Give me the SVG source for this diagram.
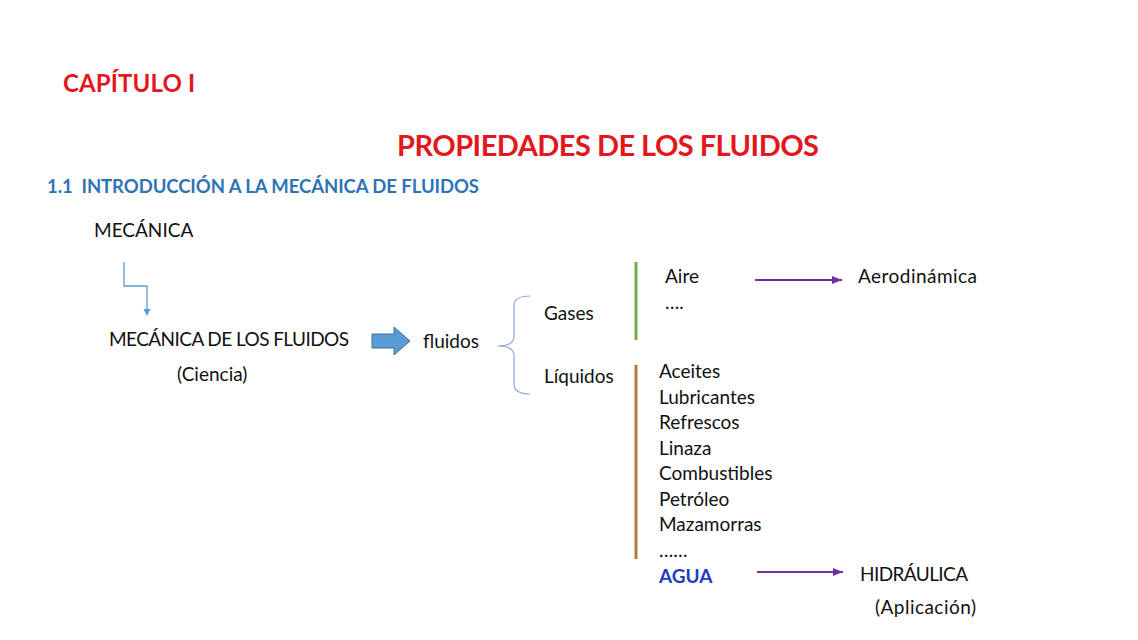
<svg xmlns="http://www.w3.org/2000/svg" width="1138" height="640" viewBox="0 0 1138 640">
<defs>
<style>
text{font-family:Lato,"Open Sans","Liberation Sans",sans-serif;fill:#111;font-size:19px}
.red{fill:#e3171c;font-weight:bold}
.chap{font-size:24px}
.title{font-size:29px}
.sec{fill:#2e74b5;font-weight:bold;font-size:18.5px}
.agua{fill:#1f3fbf;font-weight:bold}
.purple{stroke:#7030a0;stroke-width:2;fill:none}
</style>
<marker id="ah" markerWidth="12" markerHeight="10" refX="10" refY="5" orient="auto" markerUnits="userSpaceOnUse">
<path d="M0,1 L10,5 L0,9 z" fill="#7030a0"/>
</marker>
</defs>
<rect width="1138" height="640" fill="#fff"/>
<text class="red chap" x="63" y="92" textLength="132">CAPÍTULO I</text>
<text class="red title" x="397" y="156" textLength="422">PROPIEDADES DE LOS FLUIDOS</text>
<text class="sec" x="47" y="193" textLength="432" xml:space="preserve">1.1  INTRODUCCIÓN A LA MECÁNICA DE FLUIDOS</text>
<g id="connectors">
<path d="M124,262 V286 H147 V310" stroke="#5b9bd5" stroke-width="1.3" fill="none"/>
<path d="M143.5,309 L150.5,309 L147,316 z" fill="#5b9bd5"/>
<path d="M372,334 H394 V327 L410,341 L394,355 V348 H372 z" fill="#5b9bd5" stroke="#41719c" stroke-width="1"/>
<path d="M530,296 Q514,296 514,306 V336 Q514,346 498,346 Q514,346 514,356 V384 Q514,394 530,394" stroke="#8eaadb" stroke-width="1.2" fill="none"/>
<line x1="636" y1="262" x2="636" y2="340" stroke="#70ad47" stroke-width="3"/>
<line x1="636" y1="365" x2="636" y2="559" stroke="#b5773a" stroke-width="3"/>
<line class="purple" x1="755" y1="280" x2="842" y2="280" marker-end="url(#ah)"/>
<line class="purple" x1="757" y1="572" x2="843" y2="572" marker-end="url(#ah)"/>
</g>
<g id="mecanica"><text x="94" y="237">MECÁNICA</text></g>
<g id="mecanica-fluidos"><text x="109" y="346" textLength="240">MECÁNICA DE LOS FLUIDOS</text><text x="177" y="381">(Ciencia)</text></g>
<g id="fluidos"><text x="423" y="348">fluidos</text></g>
<g id="gases"><text x="544" y="320">Gases</text></g>
<g id="liquidos"><text x="544" y="383">Líquidos</text></g>
<g id="gases-list"><text x="665" y="283">Aire</text><text x="665" y="309">….</text></g>
<g id="aerodinamica"><text x="858" y="283" textLength="119">Aerodinámica</text></g>
<g id="liquidos-list">
<text x="659" y="378">Aceites</text>
<text x="659" y="404">Lubricantes</text>
<text x="659" y="429">Refrescos</text>
<text x="659" y="455">Linaza</text>
<text x="659" y="480">Combustibles</text>
<text x="659" y="506">Petróleo</text>
<text x="659" y="531">Mazamorras</text>
<text x="659" y="557">……</text>
<text class="agua" x="659" y="583">AGUA</text>
</g>
<g id="hidraulica"><text x="860" y="581" textLength="108">HIDRÁULICA</text><text x="875" y="614" textLength="101">(Aplicación)</text></g>
</svg>
